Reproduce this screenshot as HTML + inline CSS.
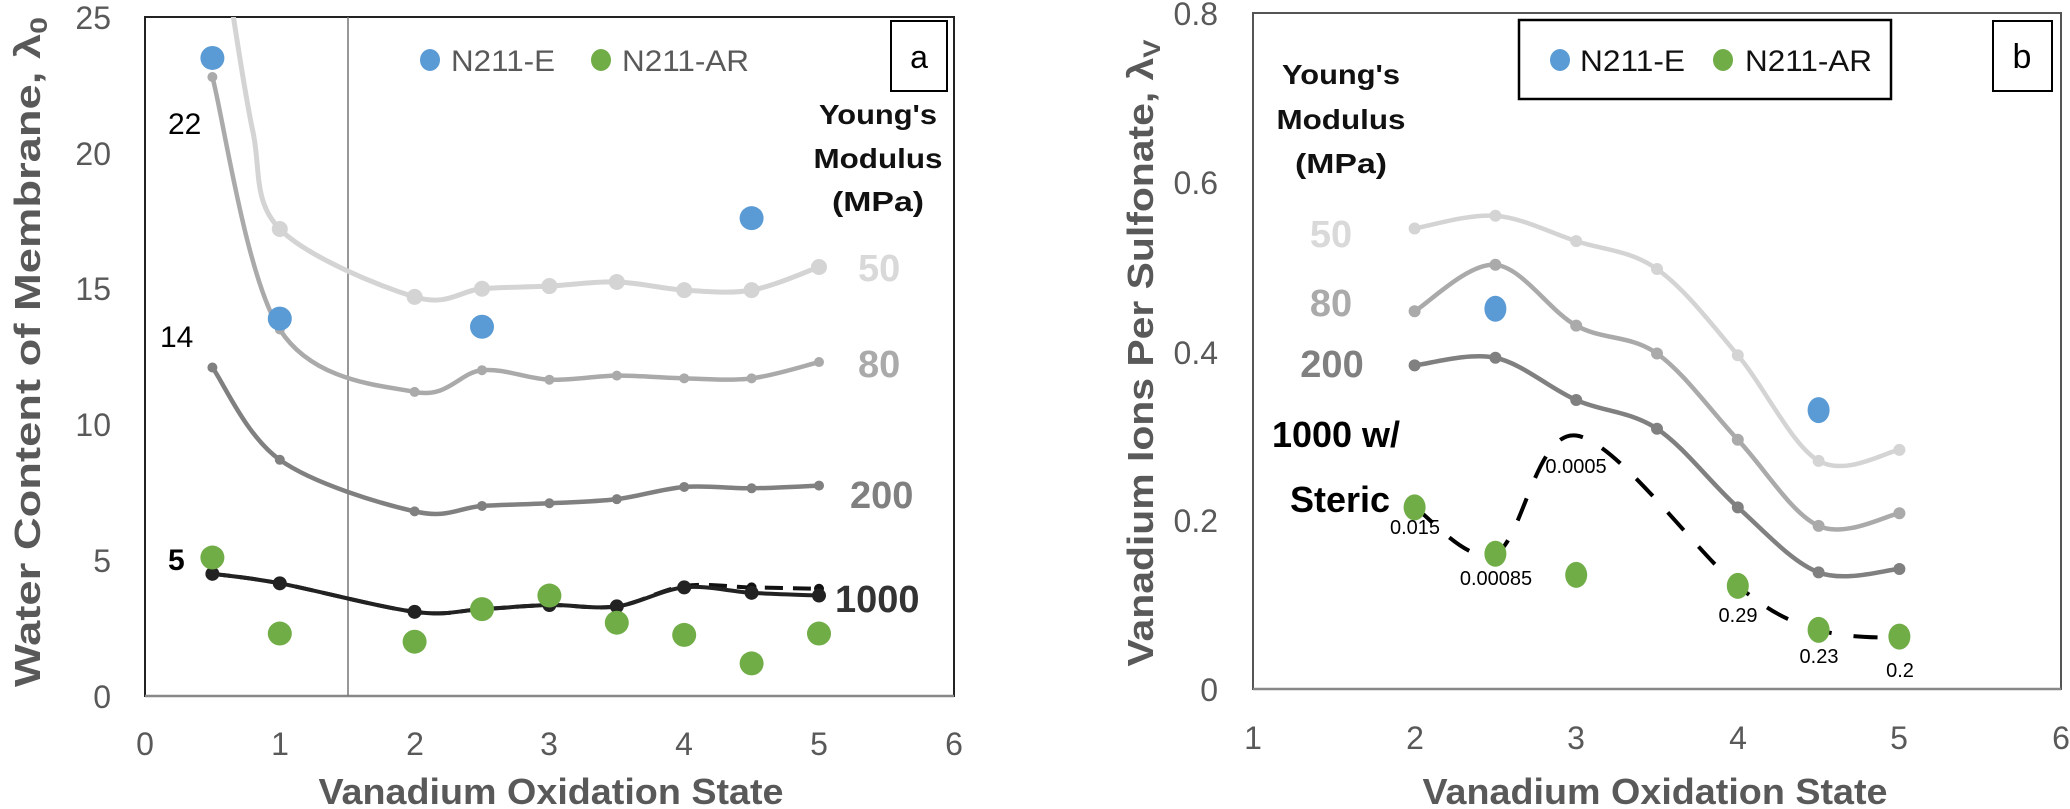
<!DOCTYPE html>
<html><head><meta charset="utf-8"><style>
body{margin:0;background:#fff}
svg{display:block;font-family:"Liberation Sans",sans-serif}
</style></head><body>
<svg width="2070" height="809" viewBox="0 0 2070 809" xmlns="http://www.w3.org/2000/svg">
<rect width="2070" height="809" fill="#fff"/>
<!-- LEFT -->
<rect x="145" y="17" width="809" height="679" fill="none" stroke="#222" stroke-width="2"/>
<line x1="145" y1="696" x2="954" y2="696" stroke="#888" stroke-width="2.5"/>
<line x1="348" y1="17" x2="348" y2="696" stroke="#777" stroke-width="1.5"/>
<g fill="#595959" font-size="32" text-anchor="end">
<text x="111" y="708">0</text><text x="111" y="572">5</text><text x="111" y="436">10</text>
<text x="111" y="300">15</text><text x="111" y="165">20</text><text x="111" y="29">25</text>
</g>
<g fill="#595959" font-size="32" text-anchor="middle">
<text x="145" y="755">0</text><text x="280" y="755">1</text><text x="415" y="755">2</text>
<text x="549" y="755">3</text><text x="684" y="755">4</text><text x="819" y="755">5</text><text x="954" y="755">6</text>
</g>
<text x="551" y="804" font-size="36" font-weight="bold" fill="#595959" text-anchor="middle" textLength="465" lengthAdjust="spacingAndGlyphs">Vanadium Oxidation State</text>
<text transform="translate(40,352) rotate(-90)" font-size="36" font-weight="bold" fill="#595959" text-anchor="middle" textLength="670" lengthAdjust="spacingAndGlyphs">Water Content of Membrane, λ<tspan font-size="24" dy="7">0</tspan></text>
<g id="L"></g>
<ellipse cx="430" cy="60" rx="10" ry="11" fill="#5b9bd5"/><text x="451" y="71" font-size="30" fill="#595959" textLength="104" lengthAdjust="spacingAndGlyphs">N211-E</text>
<ellipse cx="601" cy="60" rx="10" ry="11" fill="#70ad47"/><text x="622" y="71" font-size="30" fill="#595959" textLength="127" lengthAdjust="spacingAndGlyphs">N211-AR</text>
<rect x="891" y="21" width="56" height="70" fill="#fff" stroke="#000" stroke-width="2"/>
<text x="919" y="68" font-size="32" text-anchor="middle">a</text>
<g font-weight="bold" font-size="28" fill="#111" text-anchor="middle">
<text x="878" y="124" textLength="118" lengthAdjust="spacingAndGlyphs">Young's</text>
<text x="878" y="168" textLength="129" lengthAdjust="spacingAndGlyphs">Modulus</text>
<text x="878" y="211" textLength="92" lengthAdjust="spacingAndGlyphs">(MPa)</text></g>
<g font-weight="bold" font-size="38">
<text x="858" y="281" fill="#d9d9d9">50</text><text x="858" y="377" fill="#aaa">80</text>
<text x="850" y="508" fill="#808080">200</text><text x="835" y="612" fill="#333">1000</text></g>
<text x="168" y="134" font-size="30">22</text><text x="160" y="347" font-size="30">14</text>
<text x="168" y="570" font-size="30" font-weight="bold">5</text>
<!-- RIGHT -->
<rect x="1253" y="13" width="808" height="676" fill="none" stroke="#555" stroke-width="2"/>
<line x1="1253" y1="689" x2="2061" y2="689" stroke="#888" stroke-width="2.5"/>
<g fill="#595959" font-size="32" text-anchor="end">
<text x="1218" y="701">0</text><text x="1218" y="532">0.2</text><text x="1218" y="364">0.4</text>
<text x="1218" y="194">0.6</text><text x="1218" y="25">0.8</text></g>
<g fill="#595959" font-size="32" text-anchor="middle">
<text x="1253" y="749">1</text><text x="1415" y="749">2</text><text x="1576" y="749">3</text>
<text x="1738" y="749">4</text><text x="1899" y="749">5</text><text x="2061" y="749">6</text></g>
<text x="1655" y="804" font-size="36" font-weight="bold" fill="#595959" text-anchor="middle" textLength="465" lengthAdjust="spacingAndGlyphs">Vanadium Oxidation State</text>
<text transform="translate(1153,353) rotate(-90)" font-size="36" font-weight="bold" fill="#595959" text-anchor="middle" textLength="627" lengthAdjust="spacingAndGlyphs">Vanadium Ions Per Sulfonate, λ<tspan font-size="24" dy="7">V</tspan></text>
<g id="R"></g>
<rect x="1519" y="20" width="372" height="79" fill="#fff" stroke="#000" stroke-width="2.5"/>
<ellipse cx="1560" cy="60" rx="10" ry="11" fill="#5b9bd5"/><text x="1580" y="71" font-size="30" fill="#111" textLength="105" lengthAdjust="spacingAndGlyphs">N211-E</text>
<ellipse cx="1723" cy="60" rx="10" ry="11" fill="#70ad47"/><text x="1745" y="71" font-size="30" fill="#111" textLength="127" lengthAdjust="spacingAndGlyphs">N211-AR</text>
<rect x="1993" y="21" width="59" height="70" fill="#fff" stroke="#000" stroke-width="2"/>
<text x="2022" y="68" font-size="34" text-anchor="middle">b</text>
<g font-weight="bold" font-size="28" fill="#111" text-anchor="middle">
<text x="1341" y="84" textLength="118" lengthAdjust="spacingAndGlyphs">Young's</text>
<text x="1341" y="129" textLength="129" lengthAdjust="spacingAndGlyphs">Modulus</text>
<text x="1341" y="173" textLength="92" lengthAdjust="spacingAndGlyphs">(MPa)</text></g>
<g font-weight="bold" font-size="38" text-anchor="middle">
<text x="1331" y="247" fill="#d9d9d9">50</text><text x="1331" y="316" fill="#aaa">80</text>
<text x="1332" y="377" fill="#808080">200</text>
<text x="1336" y="447" fill="#000" font-size="36">1000 w/</text><text x="1340" y="512" fill="#000" font-size="36">Steric</text></g>
<g font-size="20" fill="#000" text-anchor="middle">
<text x="1415" y="534">0.015</text><text x="1496" y="585">0.00085</text><text x="1576" y="473">0.0005</text>
<text x="1738" y="622">0.29</text><text x="1819" y="663">0.23</text><text x="1900" y="677">0.2</text></g>
</svg>
<script>
function cr(p){let d="M"+p[0][0]+","+p[0][1];for(let i=0;i<p.length-1;i++){const a=p[i-1]||p[i],b=p[i],c=p[i+1],e=p[i+2]||c;d+=" C"+(b[0]+(c[0]-a[0])/6)+","+(b[1]+(c[1]-a[1])/6)+" "+(c[0]-(e[0]-b[0])/6)+","+(c[1]-(e[1]-b[1])/6)+" "+c[0]+","+c[1];}return d;}
const NS="http://www.w3.org/2000/svg";
function add(g,tag,at){const e=document.createElementNS(NS,tag);for(const k in at)e.setAttribute(k,at[k]);g.appendChild(e);}
const L=document.getElementById("L"),R=document.getElementById("R");
const lx=x=>145+x*134.8,ly=y=>696-y*27.15;
const xs=[0.5,1,2,2.5,3,3.5,4,4.5,5];
function lser(ys,col,w,dash,r){let p=xs.map((x,i)=>[lx(x),ly(ys[i])]);add(L,"path",{d:cr(p),fill:"none",stroke:col,"stroke-width":w,"stroke-dasharray":dash||"none"});p.forEach(q=>add(L,"circle",{cx:q[0],cy:q[1],r:r||5,fill:col}));}
(function(){const ys=[17.2,14.7,15.0,15.1,15.25,14.95,14.95,15.8];const x2=[1,2,2.5,3,3.5,4,4.5,5];let p=[[lx(0.64),ly(25.5)],[lx(0.8),ly(20.8)]].concat(x2.map((x,i)=>[lx(x),ly(ys[i])]));const cp=document.createElementNS(NS,"clipPath");cp.id="c1";add(cp,"rect",{x:145,y:17,width:809,height:679});L.appendChild(cp);add(L,"path",{d:cr(p),fill:"none",stroke:"#d4d4d4","stroke-width":5,"clip-path":"url(#c1)"});p.slice(2).forEach(q=>add(L,"circle",{cx:q[0],cy:q[1],r:8,fill:"#d4d4d4"}));})();
lser([22.8,13.5,11.2,12.0,11.65,11.8,11.7,11.7,12.3],"#aaa",4.5);
lser([12.1,8.7,6.8,7.0,7.1,7.25,7.7,7.65,7.75],"#808080",4.5);
lser([4.5,4.15,3.1,3.2,3.35,3.3,4.05,4.0,3.95],"#111",4,"18 10");
lser([4.5,4.15,3.1,3.2,3.35,3.3,4.0,3.8,3.7],"#222",4,null,7);
[[0.5,23.5],[1,13.9],[2.5,13.6],[4.5,17.6]].forEach(d=>add(L,"ellipse",{cx:lx(d[0]),cy:ly(d[1]),rx:12,ry:12,fill:"#5b9bd5"}));
[[0.5,5.1],[1,2.3],[2,2.0],[2.5,3.2],[3,3.7],[3.5,2.7],[4,2.25],[4.5,1.2],[5,2.3]].forEach(d=>add(L,"ellipse",{cx:lx(d[0]),cy:ly(d[1]),rx:12,ry:12,fill:"#70ad47"}));
const rx=x=>1253+(x-1)*161.6,ry=y=>689-y*845;
const xr=[2,2.5,3,3.5,4,4.5,5];
function rser(ys,col,xx,dash,w){const p=(xx||xr).map((x,i)=>[rx(x),ry(ys[i])]);add(R,"path",{d:cr(p),fill:"none",stroke:col,"stroke-width":w||4.5,"stroke-dasharray":dash||"none"});if(!dash)p.forEach(q=>add(R,"circle",{cx:q[0],cy:q[1],r:6,fill:col}));}
rser([0.545,0.56,0.53,0.497,0.395,0.27,0.283],"#d4d4d4");
rser([0.447,0.502,0.43,0.397,0.295,0.193,0.208],"#aaa");
rser([0.383,0.392,0.342,0.308,0.215,0.138,0.142],"#808080");
rser([0.215,0.16,0.3,0.122,0.07,0.06],"#000",[2,2.5,3,4,4.5,5],"24 22",4);
[[2.5,0.45],[4.5,0.33]].forEach(d=>add(R,"ellipse",{cx:rx(d[0]),cy:ry(d[1]),rx:11,ry:13,fill:"#5b9bd5"}));
[[2,0.215],[2.5,0.16],[3,0.135],[4,0.122],[4.5,0.07],[5,0.062]].forEach(d=>add(R,"ellipse",{cx:rx(d[0]),cy:ry(d[1]),rx:11,ry:13,fill:"#70ad47"}));
</script>
</body></html>
